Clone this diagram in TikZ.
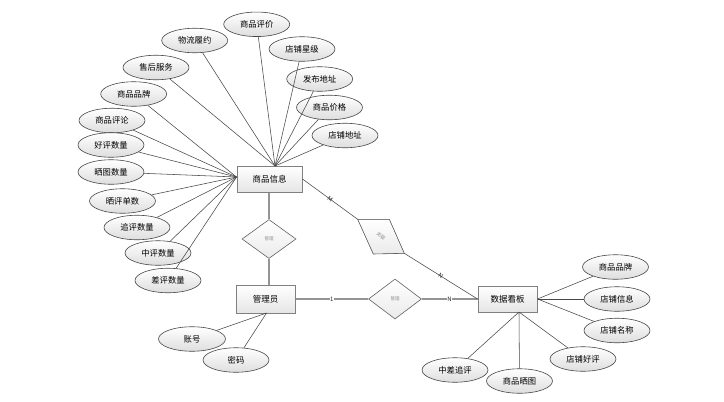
\documentclass[tikz,border=0pt]{standalone}
\usepackage{fontspec}
\setmainfont{Noto Sans CJK SC}
\usetikzlibrary{shapes.geometric}
\begin{document}
\begin{tikzpicture}[x=1pt,y=-1pt,
 attr/.style={ellipse, draw=black!72, line width=0.6pt, top color=white, bottom color=black!13, minimum width=66pt, minimum height=24.5pt, inner sep=0pt, font=\fontsize{8.3}{9}\selectfont},
 ent/.style={rectangle, draw=black!50, line width=1pt, top color=white, bottom color=black!10, inner sep=0pt, font=\fontsize{8.5}{9}\selectfont},
 rel/.style={diamond, draw=black!62, line width=0.6pt, top color=white, bottom color=black!8, minimum width=54pt, minimum height=39pt, inner sep=0pt, font=\fontsize{4.5}{5}\selectfont, text=black!45},
 ln/.style={draw=black!72, line width=0.55pt},
 thk/.style={draw=black!42, line width=1.7pt},
 card/.style={font=\fontsize{6}{6}\selectfont, inner sep=0.5pt, fill=white, text=black!85}]
\fill[white] (0,0) rectangle (724,402);
\useasboundingbox (0,0) rectangle (724,402);

% entities
\node[ent, minimum width=65pt, minimum height=26pt] (sp) at (269.5,179) {商品信息};
\node[ent, minimum width=59pt, minimum height=28pt] (adm) at (265.5,299) {管理员};
\node[ent, minimum width=59pt, minimum height=26pt] (db) at (507.5,299) {数据看板};

% relationships
\node[rel] (r1) at (269,239) {管理};
\node[rel, minimum width=53pt, minimum height=40pt] (r2) at (395,299) {管理};
\coordinate (g1) at (357.7,219.3);
\coordinate (g2) at (389.3,219.3);
\coordinate (g3) at (404.3,253.3);
\coordinate (g4) at (373.3,254);
\filldraw[draw=black!62, line width=0.6pt, top color=white, bottom color=black!8] (g1) -- (g2) -- (g3) -- (g4) -- cycle;
\node[font=\fontsize{4.8}{5}\selectfont, text=black!45, rotate=-40, inner sep=0pt] (rl) at (381,236.5) {关联};

% attributes of 商品信息
\node[attr] (a1) at (256.7,24.3) {商品评价};
\node[attr] (a2) at (194.7,40.5) {物流履约};
\node[attr] (a3) at (302,49) {店铺星级};
\node[attr] (a4) at (156,67.5) {售后服务};
\node[attr] (a5) at (319.7,79) {发布地址};
\node[attr] (a6) at (133.7,94) {商品品牌};
\node[attr] (a7) at (329.5,107.5) {商品价格};
\node[attr] (a8) at (112,120.5) {商品评论};
\node[attr] (a9) at (345,135.5) {店铺地址};
\node[attr] (a10) at (111,145) {好评数量};
\node[attr] (a11) at (111,172) {晒图数量};
\node[attr] (a12) at (122.5,201) {晒评单数};
\node[attr] (a13) at (137,227.5) {追评数量};
\node[attr] (a14) at (158,253) {中评数量};
\node[attr] (a15) at (168,280.5) {差评数量};

% attributes of 管理员
\node[attr, minimum width=67pt] (b1) at (192,339) {账号};
\node[attr] (b2) at (236,360) {密码};

% attributes of 数据看板
\node[attr] (c1) at (615.5,267) {商品品牌};
\node[attr] (c2) at (617,299) {店铺信息};
\node[attr] (c3) at (617,330.5) {店铺名称};
\node[attr] (c4) at (583,359) {店铺好评};
\node[attr] (c5) at (519.5,381) {商品晒图};
\node[attr] (c6) at (455,370) {中差追评};

% convergence points
\coordinate (spT) at (275,166);
\coordinate (spL) at (236.5,177);
\coordinate (dbB) at (519,312);
\coordinate (admS) at (266.5,313);

\foreach \a in {a1,a2,a3,a4,a5,a7,a9} \draw[ln] (\a) -- (spT);
\foreach \a in {a6,a8,a10,a11,a12,a13,a14,a15} \draw[ln] (\a) -- (spL);
\draw[ln] (admS) -- (b1);
\draw[ln] (admS) -- (b2);
\foreach \c in {c1,c2,c3} \draw[ln] (db.east) -- (\c);
\foreach \c in {c4,c5,c6} \draw[ln] (dbB) -- (\c);

% relationship connectors
\draw[thk] (r1.north |- sp.south) -- (r1.north);
\draw[thk] (r1.south) -- (r1.south |- adm.north);
\draw[thk] (adm.east) -- node[card] (one) {1} (r2.west);
\draw[thk] (r2.east) -- node[card] (nn) {N} (db.west);
\draw[ln] (sp.east) -- node[card, sloped, fill=none] (mm) {M} (g1);
\draw[ln] (g3) -- node[card, sloped, fill=none] (nn2) {N} (db.west);
\end{tikzpicture}
\end{document}
